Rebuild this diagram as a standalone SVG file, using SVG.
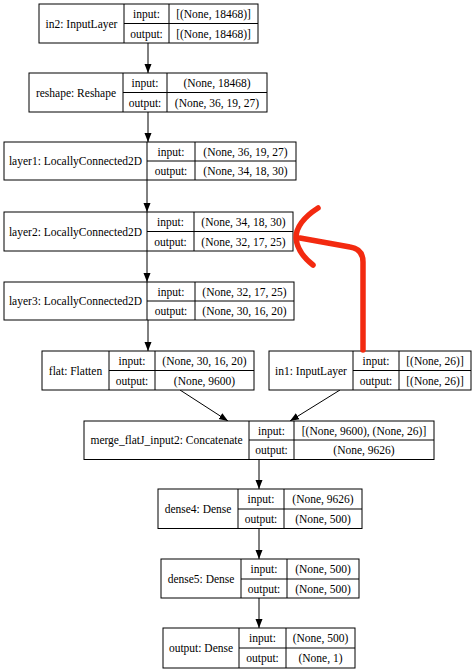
<svg xmlns="http://www.w3.org/2000/svg" width="474" height="671" viewBox="0 0 474 671" font-family="'Liberation Serif', 'Times New Roman', Times, 'DejaVu Serif', serif">
<defs>
<style>
.b{fill:#fff;stroke:#000;stroke-width:1}
.l{stroke:#000;stroke-width:1;fill:none}
text{font-family:'Liberation Serif','Times New Roman',Times,'DejaVu Serif',serif;font-size:11.5px;fill:#000;text-anchor:middle}
.e{stroke:#000;stroke-width:1;fill:none;marker-end:url(#ah)}
.red{stroke:#f32a10;stroke-width:5.5;fill:none;stroke-linecap:round;stroke-linejoin:round}
</style>
<marker id="ah" markerUnits="userSpaceOnUse" markerWidth="10" markerHeight="10" refX="9" refY="5" orient="auto">
<path d="M0,1.5 L9,5 L0,8.5 Z" fill="#000"/>
</marker>
</defs>
<rect width="474" height="671" fill="#fff"/>

<g id="connectors">
<line class="e" x1="148" y1="43" x2="148" y2="73"/>
<line class="e" x1="148" y1="112" x2="148" y2="142"/>
<line class="e" x1="147" y1="180" x2="147" y2="212"/>
<line class="e" x1="147" y1="251" x2="147" y2="282"/>
<line class="e" x1="148" y1="320" x2="148" y2="351"/>
<line class="e" x1="180" y1="390" x2="228" y2="421"/>
<line class="e" x1="340" y1="390" x2="290" y2="421"/>
<line class="e" x1="259" y1="459.5" x2="259" y2="489"/>
<line class="e" x1="259" y1="528.5" x2="259" y2="559"/>
<line class="e" x1="259" y1="598" x2="259" y2="628"/>
</g>

<g id="in2">
<rect class="b" x="39" y="4" width="219" height="39"/>
<path class="l" d="M124,4V43M169,4V43M124,23.5H258"/>
<text x="81.5" y="27.5">in2: InputLayer</text>
<text x="146.5" y="18">input:</text>
<text x="146.5" y="37.5">output:</text>
<text x="213.5" y="18">[(None, 18468)]</text>
<text x="213.5" y="37.5">[(None, 18468)]</text>
</g>

<g id="reshape">
<rect class="b" x="29" y="73" width="238" height="39"/>
<path class="l" d="M123,73V112M167,73V112M123,92.5H267"/>
<text x="76" y="96.5">reshape: Reshape</text>
<text x="145" y="87">input:</text>
<text x="145" y="106.5">output:</text>
<text x="217" y="87">(None, 18468)</text>
<text x="217" y="106.5">(None, 36, 19, 27)</text>
</g>

<g id="layer1">
<rect class="b" x="4" y="142" width="292" height="38"/>
<path class="l" d="M147,142V180M195,142V180M147,161H296"/>
<text x="75.5" y="165">layer1: LocallyConnected2D</text>
<text x="171" y="155.5">input:</text>
<text x="171" y="174.5">output:</text>
<text x="245.5" y="155.5">(None, 36, 19, 27)</text>
<text x="245.5" y="174.5">(None, 34, 18, 30)</text>
</g>

<g id="layer2">
<rect class="b" x="4" y="212" width="289" height="39"/>
<path class="l" d="M147,212V251M194,212V251M147,231.5H293"/>
<text x="75.5" y="235.5">layer2: LocallyConnected2D</text>
<text x="170.5" y="226">input:</text>
<text x="170.5" y="245.5">output:</text>
<text x="243.5" y="226">(None, 34, 18, 30)</text>
<text x="243.5" y="245.5">(None, 32, 17, 25)</text>
</g>

<g id="layer3">
<rect class="b" x="4" y="282" width="290" height="38"/>
<path class="l" d="M147,282V320M195,282V320M147,301H294"/>
<text x="75.5" y="305">layer3: LocallyConnected2D</text>
<text x="171" y="295.5">input:</text>
<text x="171" y="314.5">output:</text>
<text x="244.5" y="295.5">(None, 32, 17, 25)</text>
<text x="244.5" y="314.5">(None, 30, 16, 20)</text>
</g>

<g id="flat">
<rect class="b" x="42" y="351" width="212" height="39"/>
<path class="l" d="M109,351V390M155,351V390M109,370.5H254"/>
<text x="75.5" y="374.5">flat: Flatten</text>
<text x="132" y="365">input:</text>
<text x="132" y="384.5">output:</text>
<text x="204.5" y="365">(None, 30, 16, 20)</text>
<text x="204.5" y="384.5">(None, 9600)</text>
</g>

<g id="in1">
<rect class="b" x="269" y="351" width="202" height="39"/>
<path class="l" d="M353,351V390M399,351V390M353,370.5H471"/>
<text x="311" y="374.5">in1: InputLayer</text>
<text x="376" y="365">input:</text>
<text x="376" y="384.5">output:</text>
<text x="435" y="365">[(None, 26)]</text>
<text x="435" y="384.5">[(None, 26)]</text>
</g>

<g id="merge">
<rect class="b" x="84" y="421" width="350" height="38.5"/>
<path class="l" d="M249,421V459.5M294,421V459.5M249,440H434"/>
<text x="166.5" y="444">merge_flatJ_input2: Concatenate</text>
<text x="271.5" y="434.5">input:</text>
<text x="271.5" y="454">output:</text>
<text x="364" y="434.5">[(None, 9600), (None, 26)]</text>
<text x="364" y="454">(None, 9626)</text>
</g>

<g id="dense4">
<rect class="b" x="158" y="489" width="204" height="39.5"/>
<path class="l" d="M238,489V528.5M284,489V528.5M238,509H362"/>
<text x="198" y="513">dense4: Dense</text>
<text x="261" y="503">input:</text>
<text x="261" y="522.5">output:</text>
<text x="323" y="503">(None, 9626)</text>
<text x="323" y="522.5">(None, 500)</text>
</g>

<g id="dense5">
<rect class="b" x="161" y="559" width="198" height="39"/>
<path class="l" d="M241,559V598M287,559V598M241,579H359"/>
<text x="201" y="582.5">dense5: Dense</text>
<text x="264" y="573">input:</text>
<text x="264" y="592.5">output:</text>
<text x="323" y="573">(None, 500)</text>
<text x="323" y="592.5">(None, 500)</text>
</g>

<g id="output">
<rect class="b" x="163" y="628" width="192" height="40"/>
<path class="l" d="M239,628V668M286,628V668M239,648H355"/>
<text x="201" y="652">output: Dense</text>
<text x="262.5" y="642">input:</text>
<text x="262.5" y="662">output:</text>
<text x="320.5" y="642">(None, 500)</text>
<text x="320.5" y="662">(None, 1)</text>
</g>

<g id="annotation">
<path class="red" d="M363,350 L363,262 Q363,249 350,247 L300,238"/>
<path class="red" d="M318,208 C304,217 296,228 296,238 C297,249 304,258 313,265"/>
</g>
</svg>
